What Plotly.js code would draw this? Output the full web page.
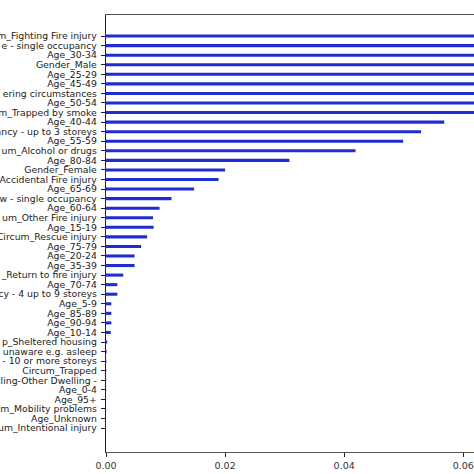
<!DOCTYPE html>
<html>
<head>
<meta charset="utf-8">
<script src="https://cdn.plot.ly/plotly-3.0.1.min.js"></script>
<style>html,body{margin:0;padding:0;background:#fff;}#chart{width:474px;height:474px;}</style>
</head>
<body>
<div id="chart"></div>
<script>
// Feature names as visible in the (cropped) reference, top to bottom
var features = [
  "m_Fighting Fire injury",
  "e - single occupancy",
  "Age_30-34",
  "Gender_Male",
  "Age_25-29",
  "Age_45-49",
  "ering circumstances",
  "Age_50-54",
  "m_Trapped by smoke",
  "Age_40-44",
  "ancy - up to 3 storeys",
  "Age_55-59",
  "um_Alcohol or drugs",
  "Age_80-84",
  "Gender_Female",
  "Accidental Fire injury",
  "Age_65-69",
  "w - single occupancy",
  "Age_60-64",
  "um_Other Fire injury",
  "Age_15-19",
  "Circum_Rescue injury",
  "Age_75-79",
  "Age_20-24",
  "Age_35-39",
  "_Return to fire injury",
  "Age_70-74",
  "cy - 4 up to 9 storeys",
  "Age_5-9",
  "Age_85-89",
  "Age_90-94",
  "Age_10-14",
  "p_Sheltered housing",
  "unaware e.g. asleep",
  "- 10 or more storeys",
  "Circum_Trapped",
  "lling-Other Dwelling -",
  "Age_0-4",
  "Age_95+",
  "m_Mobility problems",
  "Age_Unknown",
  "um_Intentional injury"
];
// Importance values (top 9 run beyond the visible edge)
var importance = [
  0.120, 0.110, 0.100, 0.095, 0.090, 0.085, 0.078, 0.070, 0.064,
  0.0568, 0.0529, 0.0499, 0.0419, 0.0308, 0.0200, 0.0189, 0.0148,
  0.0110, 0.0090, 0.0079, 0.0080, 0.0069, 0.0059, 0.0048, 0.0048,
  0.0029, 0.0019, 0.0019, 0.0009, 0.0009, 0.0009, 0.0008, 0.0002,
  0.0001, 0.00005, 0.00005, 0.00003, 0.00003, 0.00002, 0.00002, 0.00001, 0.00001
];
var xTicks = [0, 0.02, 0.04, 0.06];

var trace = {
  type: 'bar',
  orientation: 'h',
  x: importance,
  y: features,
  width: 0.32,
  marker: {color: 'rgb(30,45,210)', line: {width: 0}},
  hoverinfo: 'x+y'
};
var layout = {
  width: 474, height: 474,
  margin: {l: 106, r: 0, t: 15, b: 22, pad: 0},
  paper_bgcolor: '#fff', plot_bgcolor: '#fff',
  showlegend: false,
  font: {family: 'DejaVu Sans', color: '#222'},
  xaxis: {
    range: [0, (474 - 106) / 5955],
    tickvals: xTicks,
    tickformat: '.2f',
    ticks: 'outside', ticklen: 4, tickwidth: 1, tickcolor: '#222',
    showline: true, linecolor: '#555', linewidth: 1.3, mirror: true,
    showgrid: false, zeroline: false,
    tickfont: {size: 9.5, color: '#333', family: 'DejaVu Sans'}
  },
  yaxis: {
    type: 'category',
    range: [43.5, -2.2],
    tickmode: 'array',
    tickvals: features,
    ticktext: features,
    ticks: 'outside', ticklen: 4, tickwidth: 1, tickcolor: '#222',
    ticklabelstandoff: 2,
    showline: true, linecolor: '#222', linewidth: 1.3, mirror: false,
    showgrid: false, zeroline: false,
    tickfont: {size: 9.3, color: '#222', family: 'DejaVu Sans'},
    automargin: false
  }
};
Plotly.newPlot('chart', [trace], layout, {displayModeBar: false, staticPlot: true});
</script>
</body>
</html>
